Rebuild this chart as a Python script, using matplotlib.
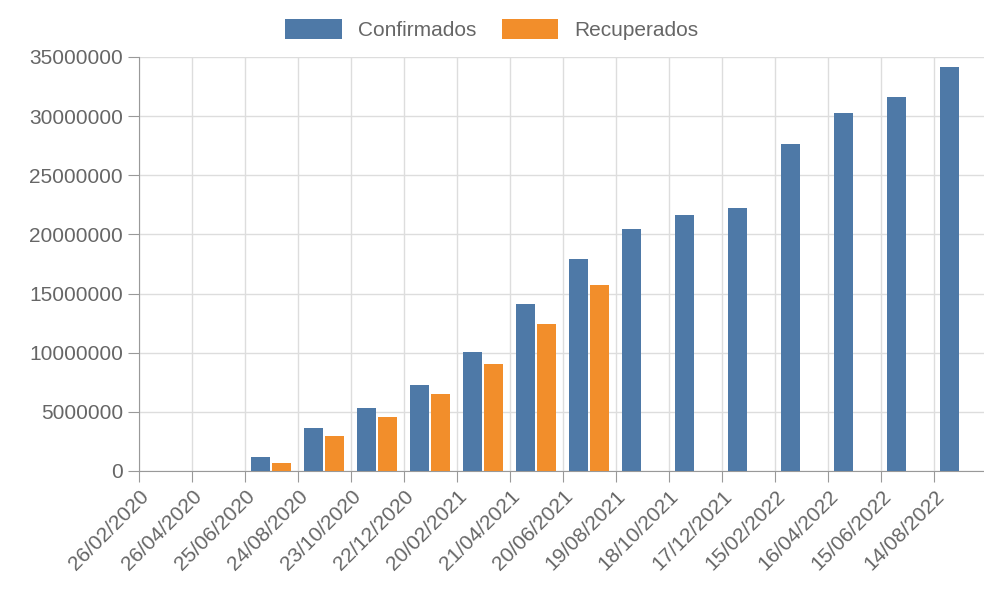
import matplotlib
matplotlib.use('Agg')
import matplotlib.pyplot as plt
import numpy as np

plt.rcParams['font.family'] = ['Liberation Sans', 'DejaVu Sans']

dates = ['26/02/2020', '26/04/2020', '25/06/2020', '24/08/2020', '23/10/2020', '22/12/2020',
         '20/02/2021', '21/04/2021', '20/06/2021', '19/08/2021', '18/10/2021', '17/12/2021',
         '15/02/2022', '16/04/2022', '15/06/2022', '14/08/2022']
confirmados = [0, 10000, 1200000, 3600000, 5350000, 7300000, 10100000, 14100000, 17900000,
               20500000, 21650000, 22200000, 27650000, 30250000, 31600000, 34150000]
recuperados = [0, 0, 650000, 2950000, 4550000, 6500000, 9050000, 12450000, 15750000]

gray = '#666666'
fig = plt.figure(figsize=(9.84, 5.9), dpi=100)
ax = fig.add_axes([139/984, 1 - 471/590, 1 - 139/984, 414/590])

x = np.arange(len(dates))
ax.bar(x + 0.29, confirmados, width=0.36, color='#4e79a7', label='Confirmados', zorder=3)
xr = np.arange(len(recuperados))
ax.bar(xr + 0.69, recuperados, width=0.36, color='#f28e2b', label='Recuperados', zorder=3)

ax.set_xlim(0, 15.94)
ax.set_ylim(0, 35000000)
ax.set_yticks(np.arange(0, 35000001, 5000000))
ax.set_yticklabels([str(v) for v in range(0, 35000001, 5000000)], fontsize=15, color=gray)
ax.set_xticks(x)
ax.set_xticklabels(dates, rotation=45, ha='right', rotation_mode='anchor', fontsize=15, color=gray)
ax.grid(True, color='#dddddd', linewidth=1, zorder=0)
for s in ['top', 'right']:
    ax.spines[s].set_visible(False)
for s in ['left', 'bottom']:
    ax.spines[s].set_color('#999999')
ax.tick_params(axis='both', length=8, color='#999999')

fig.legend(loc='upper center', bbox_to_anchor=(0.5, 1.0), ncol=2, frameon=False,
           fontsize=15, labelcolor=gray, handlelength=2.7, handleheight=1.1, columnspacing=1.2)

fig.savefig('out.png', dpi=100)
